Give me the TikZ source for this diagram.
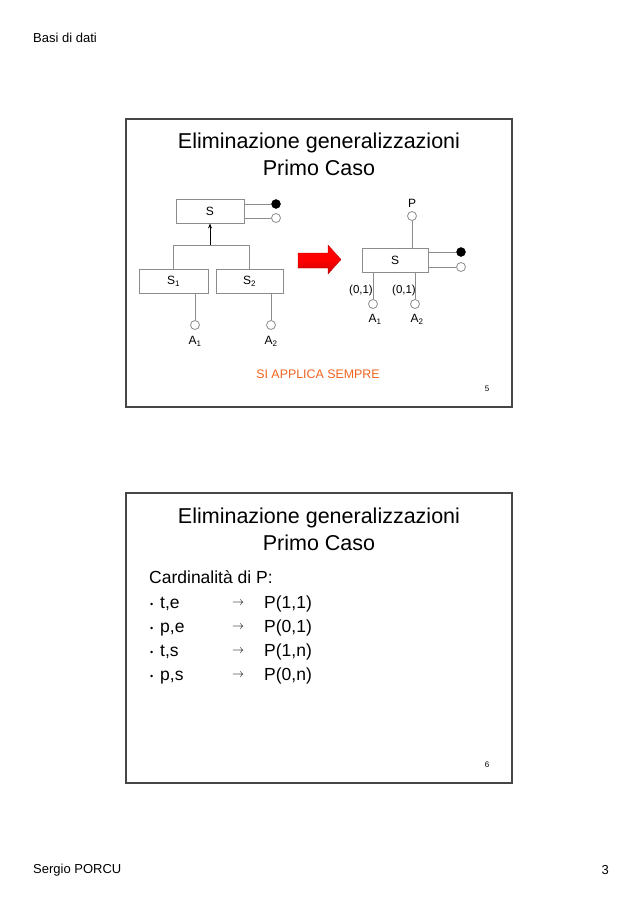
\documentclass[tikz,border=0pt]{standalone}
\usepackage{fontspec}
\setmainfont{Liberation Sans}
\usetikzlibrary{arrows.meta}
\definecolor{lgray}{RGB}{140,140,140}
\definecolor{frm}{RGB}{70,70,70}
\definecolor{orng}{RGB}{240,100,30}
\begin{document}
\begin{tikzpicture}[x=1pt,y=-1pt,
  ent/.style={draw=lgray,line width=0.9pt,fill=white,minimum height=24pt,inner sep=0pt,font=\fontsize{12}{14}\selectfont},
  attr/.style={circle,draw=lgray,line width=0.8pt,fill=white,minimum size=9pt,inner sep=0pt},
  idf/.style={circle,draw=black,fill=black,minimum size=9pt,inner sep=0pt},
  conn/.style={draw=lgray,line width=0.9pt},
  lbl/.style={font=\fontsize{12}{14}\selectfont,inner sep=0pt},
  frame/.style={draw=frm,line width=1.2pt},
  ttl/.style={font=\fontsize{21.5}{25}\selectfont,inner sep=0pt},
  body/.style={font=\fontsize{17.5}{20}\selectfont,inner sep=0pt,anchor=base west},
  pg/.style={font=\fontsize{13}{15}\selectfont,inner sep=0pt}]
\useasboundingbox (0,0) rectangle (638,903);
\fill[white] (0,0) rectangle (638,903);
% page header/footer
\node[pg,anchor=west] (hdr) at (33,38) {Basi di dati};
\node[pg,anchor=west] (ftr) at (33,870) {Sergio PORCU};
\node[pg,anchor=east] (pgn) at (609,870) {3};
% ---------- slide 5 ----------
\draw[frame] (126,119) rectangle (512,407);
\node[ttl] (t1a) at (319,143) {Eliminazione generalizzazioni};
\node[ttl] (t1b) at (319,168) {Primo Caso};
% left diagram
\node[ent,minimum width=68pt] (Sl) at (210,211) {S};
\node[ent,minimum width=69pt] (S1) at (173.5,281) {S\textsubscript{1}};
\node[ent,minimum width=67pt] (S2) at (249.5,281) {S\textsubscript{2}};
\node[idf] (lf) at (276,204) {};
\node[attr] (lo) at (276,218) {};
\draw[conn] (Sl.east |- lf) -- (lf);
\draw[conn] (Sl.east |- lo) -- (lo);
\coordinate (hj) at (210,245);
\draw[conn] (S1.north) -- (S1.north |- hj) -- (S2.north |- hj) -- (S2.north);
\draw[line width=0.9pt,-{Stealth[length=5pt,width=4pt]}] (hj) -- (Sl.south);
\node[attr] (a1) at (195,325) {};
\node[attr] (a2) at (271,325) {};
\draw[conn] (S1.south -| a1) -- (a1);
\draw[conn] (S2.south -| a2) -- (a2);
\node[lbl] (la1) at (195,341) {A\textsubscript{1}};
\node[lbl] (la2) at (271,341) {A\textsubscript{2}};
% red arrow
\shade[top color=red,bottom color=red!80!black,middle color=red,draw=red!70!black,line width=0.3pt]
  (298,253) -- (328,253) -- (328,245) -- (341,259.5) -- (328,274) -- (328,268) -- (298,268) -- cycle;
% right diagram
\node[ent,minimum width=66pt] (Sr) at (395,260) {S};
\node[attr] (p) at (412,216) {};
\node[lbl] (lp) at (412,203) {P};
\draw[conn] (p) -- (p |- Sr.north);
\node[idf] (rf) at (461,252) {};
\node[attr] (ro) at (461,267) {};
\draw[conn] (Sr.east |- rf) -- (rf);
\draw[conn] (Sr.east |- ro) -- (ro);
\node[attr] (b1) at (373,304) {};
\node[attr] (b2) at (415,304) {};
\draw[conn] (b1 |- Sr.south) -- (b1);
\draw[conn] (b2 |- Sr.south) -- (b2);
\node[lbl,font=\fontsize{11.5}{13}\selectfont] (c1) at (361,291) {(0,1)};
\node[lbl,font=\fontsize{11.5}{13}\selectfont] (c2) at (404,291) {(0,1)};
\node[lbl] (lb1) at (375,319) {A\textsubscript{1}};
\node[lbl] (lb2) at (417,319) {A\textsubscript{2}};
\node[lbl,text=orng,font=\fontsize{12.4}{14}\selectfont] (sa) at (318,374) {SI APPLICA SEMPRE};
\node[lbl,font=\fontsize{8}{9}\selectfont] (n5) at (487,389) {5};
% ---------- slide 6 ----------
\draw[frame] (126,493) rectangle (512,783);
\node[ttl] (t2a) at (319,518) {Eliminazione generalizzazioni};
\node[ttl] (t2b) at (319,543) {Primo Caso};
\node[body] (card) at (149,583) {Cardinalità di P:};
\foreach \y/\a/\b [count=\i] in {602/{t,e}/{P(1,1)},626/{p,e}/{P(0,1)},650/{t,s}/{P(1,n)},674/{p,s}/{P(0,n)}}{
  \node[body,font=\fontsize{9}{10}\selectfont] (bu\i) at (150,\y+5) {\textbullet};
  \node[body] (k\i) at (160,\y+6) {\a};
  \node[body,font=\fontsize{13}{15}\selectfont] (ar\i) at (232,\y+3.5) {$\rightarrow$};
  \node[body] (v\i) at (264,\y+6) {\b};
}
\node[lbl,font=\fontsize{8}{9}\selectfont] (n6) at (487,765) {6};
\end{tikzpicture}
\end{document}
